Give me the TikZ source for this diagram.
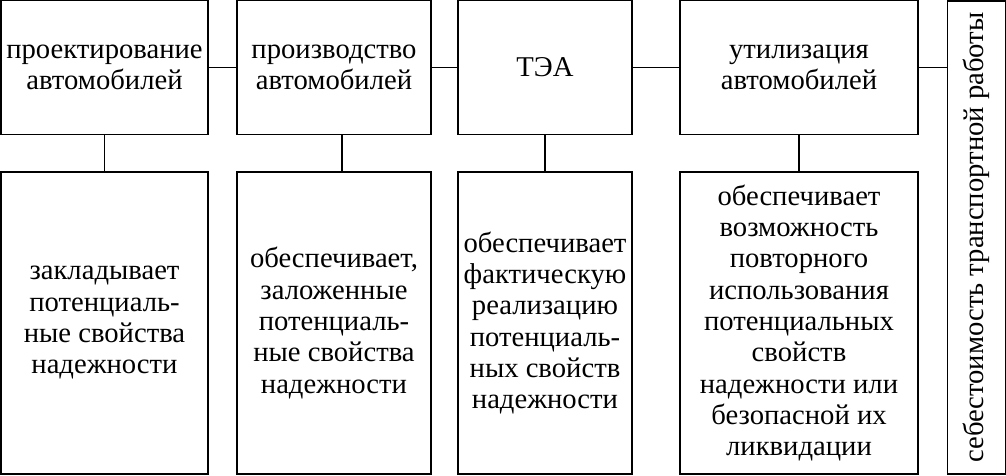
\documentclass[tikz,border=0pt]{standalone}
\usepackage{fontspec}
\setmainfont{Liberation Serif}
\tikzset{every picture/.style={line width=1.1pt}}
\tikzset{
	blk/.style={draw, inner sep=0pt, align=center, font=\fontsize{21.5}{23.5}\selectfont},
}
\begin{document}
\begin{tikzpicture}[x=0.75pt,y=0.75pt,yscale=-1,xscale=1]
	\useasboundingbox (0,0) rectangle (1006,475);

	% top row
	\node [blk, minimum width=207pt*0.75, minimum height=134pt*0.75] (proj) at (104.5,67.5) {проектирование\\автомобилей};
	\node [blk, minimum width=194pt*0.75, minimum height=134pt*0.75] (proizv) at (334,67.5) {производство\\автомобилей};
	\node [blk, minimum width=174pt*0.75, minimum height=134pt*0.75] (tea) at (545,67.5) {ТЭА};
	\node [blk, minimum width=238pt*0.75, minimum height=134pt*0.75] (util) at (799,67.5) {утилизация\\автомобилей};
	\node [blk, minimum width=58pt*0.75, minimum height=473pt*0.75] (seb) at (976.5,237.5) {\rotatebox{90}{себестоимость транспортной работы}};

	% bottom row
	\node [blk, minimum width=207pt*0.75, minimum height=302pt*0.75] (proj2) at (104.5,323) {закладывает\\потенциаль-\\ные свойства\\надежности};
	\node [blk, minimum width=194pt*0.75, minimum height=302pt*0.75] (proizv2) at (334,323) {обеспечивает,\\заложенные\\потенциаль-\\ные свойства\\надежности};
	\node [blk, minimum width=174pt*0.75, minimum height=302pt*0.75] (tea2) at (545,323) {обеспечивает\\фактическую\\реализацию\\потенциаль-\\ных свойств\\надежности};
	\node [blk, minimum width=238pt*0.75, minimum height=302pt*0.75] (util2) at (799,323) {обеспечивает\\возможность\\повторного\\использования\\потенциальных\\свойств\\надежности или\\безопасной их\\ликвидации};

	% connectors
	\draw (proj) -- (proizv);
	\draw (proizv) -- (tea);
	\draw (tea) -- (util);
	\draw (util.east) -- (util.east -| seb.west);
	\draw (proj.south) -- (proj2.north);
	\draw ([xshift=6pt]proizv.south) -- ([xshift=6pt]proizv2.north);
	\draw (tea.south) -- (tea2.north);
	\draw (util.south) -- (util2.north);
\end{tikzpicture}
\end{document}
